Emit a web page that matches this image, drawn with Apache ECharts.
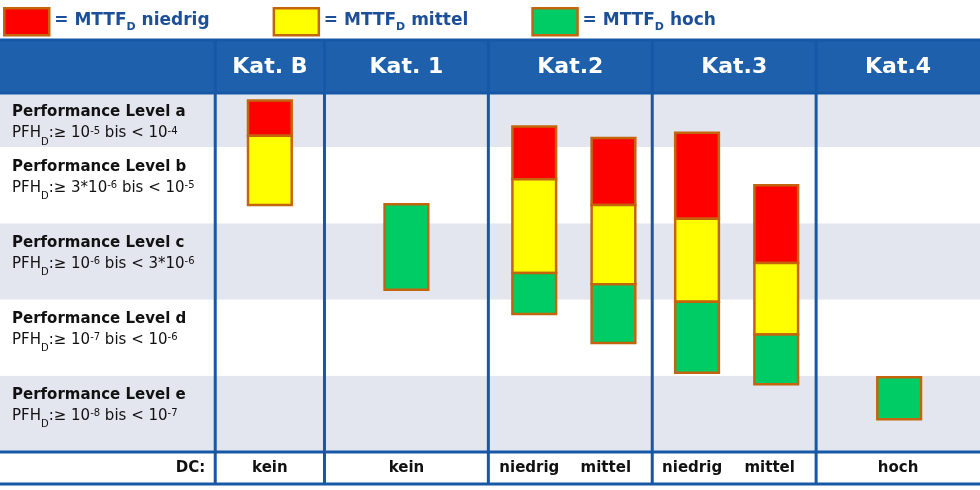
<!DOCTYPE html>
<html>
<head>
<meta charset="utf-8">
<title>Kategorien und Performance Level</title>
<script src="https://cdn.jsdelivr.net/npm/echarts@6/dist/echarts.min.js"></script>
<style>
  html, body { margin: 0; padding: 0; background: #fff; }
  #chart { width: 980px; height: 490px; }
</style>
</head>
<body>
<div id="chart"></div>
<script>
// x in "slots": Kat. B is 2 slots wide, the other categories 3 slots, label column left of 0
const xMin = -3.94
const xMax = 14
// y in PL rows: e 0-1, d 1-2, c 2-3, b 3-4, a 4-4.71 (top of row a is under the header)
const yMax = 4.71

const katNames = ['Kat. B', 'Kat. 1', 'Kat.2', 'Kat.3', 'Kat.4']
const katCenter = [1, 3.5, 6.5, 9.5, 12.5]
const katBorder = [0, 2, 5, 8, 11]

const dcNames = ['kein', 'kein', 'niedrig', 'mittel', 'niedrig', 'mittel', 'hoch']
const dcPos = [1, 3.5, 5.75, 7.15, 8.73, 10.15, 12.5]

const rowTop = [4.71, 4, 3, 2, 1]
const rowTitle = ['Performance Level a', 'Performance Level b', 'Performance Level c', 'Performance Level d', 'Performance Level e']
const rowRange = [
    '{r|:≥ 10}{sup|-5}{r| bis < 10}{sup|-4}',
    '{r|:≥ 3*10}{sup|-6}{r| bis < 10}{sup|-5}',
    '{r|:≥ 10}{sup|-6}{r| bis < 3*10}{sup|-6}',
    '{r|:≥ 10}{sup|-7}{r| bis < 10}{sup|-6}',
    '{r|:≥ 10}{sup|-8}{r| bis < 10}{sup|-7}'
]

// bar columns: Kat.B, Kat.1, Kat.2 niedrig/mittel, Kat.3 niedrig/mittel, Kat.4
const barPos = [1, 3.5, 5.84, 7.29, 8.82, 10.27, 12.52]
// [bar, from, to]
const mttfNiedrig = [[0, 4.15, 4.61], [2, 3.58, 4.27], [3, 3.24, 4.12], [4, 3.06, 4.19], [5, 2.48, 3.50]]
const mttfMittel = [[0, 3.24, 4.15], [2, 2.35, 3.58], [3, 2.20, 3.24], [4, 1.97, 3.06], [5, 1.54, 2.48]]
const mttfHoch = [[1, 2.13, 3.25], [2, 1.81, 2.35], [3, 1.43, 2.20], [4, 1.04, 1.97], [5, 0.89, 1.54], [6, 0.43, 0.98]]

const font = 'DejaVu Sans'
const lineBlue = '#1758a6'
const barBorder = '#c4650e'

let toData = (list) => list.map(d => [barPos[d[0]], d[1], d[2]])

let renderSegment = (params, api) => {
    let top = api.coord([api.value(0), api.value(2)])
    let bottom = api.coord([api.value(0), api.value(1)])
    let w = api.size([0.8, 0])[0]
    return {
        type: 'rect',
        shape: { x: top[0] - w / 2, y: top[1], width: w, height: bottom[1] - top[1] },
        style: { fill: api.visual('color'), stroke: barBorder, lineWidth: 2.5 }
    }
}

let rowRich = {
    b: { fontFamily: font, fontWeight: 'bold', fontSize: 15, lineHeight: 21, fill: '#111' },
    r: { fontFamily: font, fontSize: 15, lineHeight: 21, padding: [3, 0, 0, 0], verticalAlign: 'top', fill: '#111' },
    sup: { fontFamily: font, fontSize: 10, lineHeight: 11, padding: [3, 0, 0, 0], verticalAlign: 'top', fill: '#111' },
    sub: { fontFamily: font, fontSize: 10, lineHeight: 11, padding: [14, 0, 0, 0], verticalAlign: 'top', fill: '#111' }
}

let renderFrame = (params, api) => {
    let tl = api.coord([xMin, yMax])
    let br = api.coord([xMax, 0])
    let top = tl[1], bottom = br[1]
    let headTop = top - 53
    let dcBottom = bottom + 32
    let children = []
    children.push({
        type: 'rect',
        shape: { x: tl[0], y: headTop, width: br[0] - tl[0], height: top - headTop },
        style: { fill: '#1e60ac' }
    })
    // white DC row
    children.push({
        type: 'rect',
        shape: { x: tl[0], y: bottom, width: br[0] - tl[0], height: dcBottom - bottom },
        style: { fill: '#fff' }
    })
    ;[headTop, top, bottom, dcBottom].forEach(y => {
        children.push({
            type: 'line',
            shape: { x1: tl[0], y1: y, x2: br[0], y2: y },
            style: { stroke: lineBlue, lineWidth: 3 }
        })
    })
    katBorder.forEach(k => {
        let x = api.coord([k, 0])[0]
        children.push({
            type: 'line',
            shape: { x1: x, y1: headTop, x2: x, y2: dcBottom },
            style: { stroke: lineBlue, lineWidth: 3 }
        })
    })
    katNames.forEach((name, i) => {
        children.push({
            type: 'text',
            x: api.coord([katCenter[i], 0])[0],
            y: top - 26,
            style: { text: name, fill: '#fff', font: 'bold 22px "' + font + '"', align: 'center', verticalAlign: 'middle' }
        })
    })
    children.push({
        type: 'text',
        x: api.coord([0, 0])[0] - 10,
        y: bottom + 16.5,
        style: { text: 'DC:', fill: '#111', font: 'bold 15px "' + font + '"', align: 'right', verticalAlign: 'middle' }
    })
    dcNames.forEach((name, i) => {
        children.push({
            type: 'text',
            x: api.coord([dcPos[i], 0])[0],
            y: bottom + 16.5,
            style: { text: name, fill: '#111', font: 'bold 15px "' + font + '"', align: 'center', verticalAlign: 'middle' }
        })
    })
    rowTitle.forEach((t, i) => {
        children.push({
            type: 'text',
            x: tl[0] + 12,
            y: api.coord([xMin, rowTop[i]])[1] + 9,
            style: {
                text: '{b|' + t + '}\n{r|PFH}{sub|D}' + rowRange[i],
                rich: rowRich, align: 'left', verticalAlign: 'top'
            }
        })
    })
    return { type: 'group', children: children }
}

var Chart = echarts.init(document.getElementById('chart'))
var option = {
    animation: false,
    grid: { left: 0, right: 0, top: 93, bottom: 38 },
    legend: {
        left: 3,
        top: 7,
        padding: 0,
        itemWidth: 45,
        itemHeight: 27,
        itemGap: 63,
        icon: 'rect',
        selectedMode: false,
        data: ['niedrig', 'mittel', 'hoch'],
        itemStyle: { borderColor: barBorder, borderWidth: 2.5 },
        formatter: name => '{m|= MTTF}{sub|D}{m| ' + name + '}',
        textStyle: {
            rich: {
                m: { fontFamily: font, fontWeight: 'bold', fontSize: 17, lineHeight: 20, verticalAlign: 'top', color: '#1c4f98' },
                sub: { fontFamily: font, fontWeight: 'bold', fontSize: 11, lineHeight: 12, padding: [10, 0, 0, 0], verticalAlign: 'top', color: '#1c4f98' }
            }
        }
    },
    xAxis: { type: 'value', min: xMin, max: xMax, show: false },
    yAxis: {
        type: 'value',
        min: 0,
        max: yMax,
        interval: 1,
        axisLine: { show: false },
        axisTick: { show: false },
        axisLabel: { show: false },
        splitLine: { show: false },
        splitArea: { show: true, areaStyle: { color: ['#e3e6ef', '#ffffff'] } }
    },
    series: [
        {
            name: 'frame',
            type: 'custom',
            silent: true,
            clip: false,
            z: 1,
            renderItem: renderFrame,
            data: [[0, 0]]
        },
        {
            name: 'niedrig',
            type: 'custom',
            z: 3,
            itemStyle: { color: '#ff0000' },
            renderItem: renderSegment,
            encode: { x: 0, y: [1, 2] },
            data: toData(mttfNiedrig)
        },
        {
            name: 'mittel',
            type: 'custom',
            z: 3,
            itemStyle: { color: '#ffff00' },
            renderItem: renderSegment,
            encode: { x: 0, y: [1, 2] },
            data: toData(mttfMittel)
        },
        {
            name: 'hoch',
            type: 'custom',
            z: 3,
            itemStyle: { color: '#00cc66' },
            renderItem: renderSegment,
            encode: { x: 0, y: [1, 2] },
            data: toData(mttfHoch)
        }
    ]
}
Chart.setOption(option)
</script>
</body>
</html>
